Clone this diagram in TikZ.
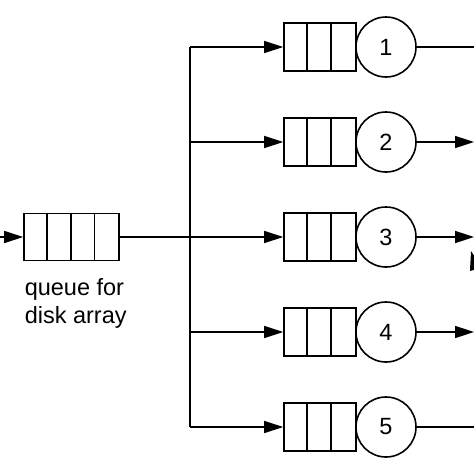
\documentclass[tikz,border=0pt]{standalone}
\usepackage{fontspec}
\setmainfont{Liberation Sans}
\usetikzlibrary{arrows.meta}

\begin{document}
\begin{tikzpicture}[x=1pt,y=-1pt,line width=1.6pt,
  font=\fontsize{23.5}{27.5}\selectfont,
  arr/.style={-{Triangle[length=19pt,width=12pt]}},
  qbox/.style={draw,rectangle,minimum width=72pt,minimum height=48pt,inner sep=0pt},
  bigq/.style={qbox,minimum width=95pt,minimum height=47pt},
  srv/.style={draw,circle,minimum size=60pt,inner sep=0pt}]
  \useasboundingbox (0,0) rectangle (474,474);
  % queue for the disk array
  \coordinate (in) at (-10,237);
  \node[bigq] (mq) at (71.5,237) {};
  \foreach \k in {1,2,3}
    \draw ([xshift=\k*23.75pt]mq.north west) -- ([xshift=\k*23.75pt]mq.south west);
  \draw[arr] (in) -- (mq.west);
  \node[anchor=north west,align=left,inner sep=0pt] (lbl) at (24,278) {queue for\\disk array};
  % fork to the disks
  \coordinate (fork) at (190,237);
  \coordinate (top) at (190,47);
  \coordinate (bot) at (190,427);
  \draw (mq.east) -- (fork);
  \draw (top) -- (bot);
  \foreach \i in {1,...,5} {
    \pgfmathsetmacro\y{47+95*(\i-1)}
    \coordinate (b\i) at (190,\y);
    \node[qbox] (q\i) at (320,\y) {};
    \foreach \k in {1,2}
      \draw ([xshift=\k*24pt]q\i.north west) -- ([xshift=\k*24pt]q\i.south west);
    \node[srv] (s\i) at (386,\y) {\i};
    \coordinate (o\i) at (474,\y);
    \draw[arr] (b\i) -- (q\i.west);
  }
  % outputs
  \draw (s1) -- ([xshift=4pt]o1);
  \draw (s5) -- ([xshift=4pt]o5);
  \foreach \i in {2,3,4}
    \draw[arr] (s\i) -- (o\i);
  \begin{scope}
    \clip (0,0) rectangle (474,474);
    \coordinate (x1) at (487,310);
    \coordinate (x2) at (471,251);
    \draw[arr] (x1) -- (x2);
  \end{scope}
\end{tikzpicture}
\end{document}
